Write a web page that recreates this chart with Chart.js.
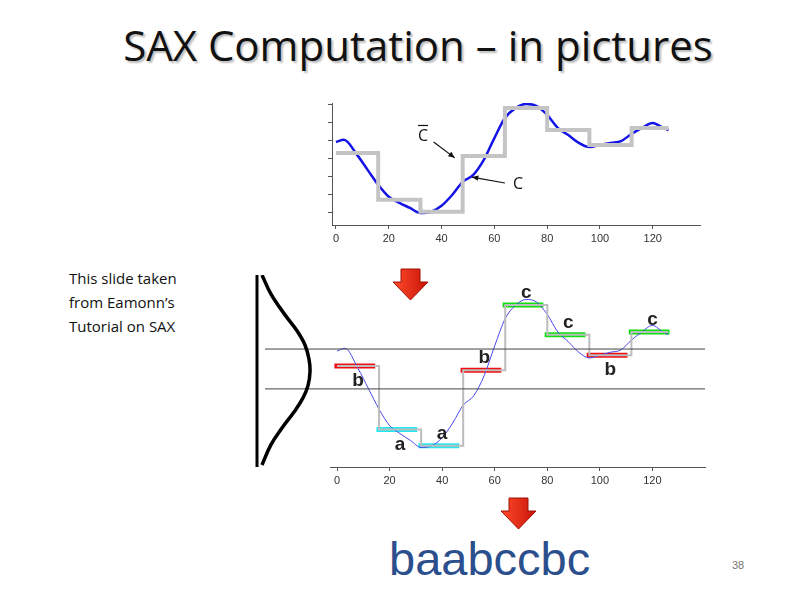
<!DOCTYPE html>
<html>
<head>
<meta charset="utf-8">
<script src="https://cdn.jsdelivr.net/npm/chart.js@4.4.1/dist/chart.umd.min.js"></script>
<style>
  html, body { margin: 0; padding: 0; background: #fff; }
  body { width: 791px; height: 589px; position: relative; overflow: hidden; font-family: "Liberation Sans", Arial, sans-serif; }
  .abs { position: absolute; }
  #title { left: 0; width: 836px; top: 16px; text-align: center; font-family: "Open Sans", sans-serif; font-size: 42px; color: #111; text-shadow: 2px 2px 2px #bbb; }
  #side { left: 69px; top: 266px; font-family: "Open Sans", sans-serif; font-size: 15px; line-height: 24px; color: #111; }
  #word { left: 389px; top: 531px; font-size: 47px; color: #2b4e8c; }
  #page { left: 732px; top: 559px; font-size: 11px; color: #777; }
</style>
</head>
<body>
<div id="title" class="abs">SAX Computation – in pictures</div>
<div id="side" class="abs">This slide taken<br>from Eamonn’s<br>Tutorial on SAX</div>
<div id="word" class="abs">baabccbc</div>
<div id="page" class="abs">38</div>

<svg class="abs" style="left:392px;top:268px" width="38" height="34">
  <defs><linearGradient id="rg" x1="0" x2="1"><stop offset="0" stop-color="#ff4a2a"/><stop offset="1" stop-color="#c81408"/></linearGradient></defs>
  <polygon points="9,1 28,1 28,14 36,14 18.5,32 1,14 9,14" fill="url(#rg)" stroke="#a01008" stroke-width="1"/>
</svg>
<svg class="abs" style="left:500px;top:497px" width="38" height="34">
  <polygon points="9,1 28,1 28,14 36,14 18.5,32 1,14 9,14" fill="url(#rg)" stroke="#a01008" stroke-width="1"/>
</svg>

<canvas id="top" class="abs" style="left:320px;top:95px" width="385" height="150"></canvas>
<canvas id="gauss" class="abs" style="left:250px;top:270px" width="80" height="222"></canvas>
<canvas id="bottom" class="abs" style="left:330px;top:270px" width="380" height="222"></canvas>

<script>
'use strict';

var SERIES_X = [0, 3, 8, 12, 16, 20, 24, 28, 32, 36, 40, 44, 48, 52, 56, 60, 64, 68, 72, 76, 80, 84, 88, 92, 96, 100, 104, 108, 112, 116, 120, 124, 126];
var SERIES_Y = [0.6, 0.67, 0.17, -0.33, -0.83, -1.23, -1.43, -1.6, -1.77, -1.73, -1.53, -1.17, -0.73, -0.5, 0.0, 0.73, 1.4, 1.73, 1.87, 1.8, 1.5, 1.07, 0.83, 0.57, 0.43, 0.5, 0.57, 0.63, 0.87, 1.07, 1.23, 1.07, 1.0];

// PAA approximation (C bar), 8 frames of 16 points
var PAA = [0.23, -1.33, -1.73, 0.13, 1.73, 1.0, 0.5, 1.07];
var FRAME = 16;
var LAST_X = 126;

// SAX symbols
var WORD = ['b', 'a', 'a', 'b', 'c', 'c', 'b', 'c'];
var LETTER_SIDE = ['below', 'below', 'above', 'above', 'above', 'above', 'below', 'above'];
var SYMBOL_COLORS = { a: '#22e8f2', b: '#f01010', c: '#10e010' };

// breakpoints between symbols
var BREAKPOINTS = [0.65, -0.33];

// gaussian outline (value, density in px-units)
var GAUSS_V = [2.47, 2.0, 1.49, 1.1, 0.75, 0.4, 0.09, -0.25, -0.55, -0.9, -1.29, -1.7, -2.2];
var GAUSS_D = [5, 14, 28, 40, 48, 52, 53, 51, 46, 37, 25, 14, 5];

var X_TICKS = [0, 20, 40, 60, 80, 100, 120];

function seriesPoints() {
  return SERIES_X.map(function (x, i) { return { x: x, y: SERIES_Y[i] }; });
}

function paaPoints() {
  var pts = PAA.map(function (v, i) { return { x: i * FRAME, y: v }; });
  pts.push({ x: LAST_X, y: PAA[PAA.length - 1] });
  return pts;
}

function xAxis(min, max, height) {
  return {
    type: 'linear', min: min, max: max,
    afterBuildTicks: function (ax) { ax.ticks = X_TICKS.map(function (v) { return { value: v }; }); },
    afterFit: function (ax) { ax.height = height; },
    grid: { display: true, drawOnChartArea: false, tickLength: 4, color: '#555' },
    border: { display: true, color: '#555', width: 1 },
    ticks: { color: '#333', font: { size: 11, family: 'Liberation Sans' }, padding: 3, maxRotation: 0 }
  };
}

// arrows and labels for the top chart
var NOTES = [
  { text: 'C', bar: true, tx: 33, ty: 0.77, fx: 37, fy: 0.6, ax: 45, ay: 0.07 },
  { text: 'C', bar: false, tx: 69, ty: -0.83, fx: 64, fy: -0.77, ax: 51.5, ay: -0.57 }
];

var notePlugin = {
  id: 'notes',
  afterDatasetsDraw: function (chart) {
    var ctx = chart.ctx, xs = chart.scales.x, ys = chart.scales.y;
    ctx.save();
    NOTES.forEach(function (n) {
      var tx = xs.getPixelForValue(n.tx), ty = ys.getPixelForValue(n.ty);
      ctx.fillStyle = '#111';
      ctx.font = '16px "Open Sans"';
      ctx.textAlign = 'center';
      ctx.textBaseline = 'middle';
      ctx.fillText(n.text, tx, ty);
      if (n.bar) {
        ctx.fillRect(tx - 5, ty - 12, 10, 1.2);
      }
      var fx = xs.getPixelForValue(n.fx), fy = ys.getPixelForValue(n.fy);
      var ax = xs.getPixelForValue(n.ax), ay = ys.getPixelForValue(n.ay);
      ctx.strokeStyle = '#111';
      ctx.lineWidth = 1.2;
      ctx.beginPath(); ctx.moveTo(fx, fy); ctx.lineTo(ax, ay); ctx.stroke();
      var a = Math.atan2(ay - fy, ax - fx);
      ctx.beginPath();
      ctx.moveTo(ax, ay);
      ctx.lineTo(ax - 7 * Math.cos(a - 0.4), ay - 7 * Math.sin(a - 0.4));
      ctx.lineTo(ax - 7 * Math.cos(a + 0.4), ay - 7 * Math.sin(a + 0.4));
      ctx.closePath(); ctx.fill();
    });
    ctx.restore();
  }
};

new Chart(document.getElementById('top').getContext('2d'), {
  type: 'line',
  data: {
    datasets: [
      { data: paaPoints(), stepped: 'before', borderColor: '#c4c4c4', borderWidth: 4, pointRadius: 0 },
      { data: seriesPoints(), borderColor: '#1414e6', borderWidth: 2.5, pointRadius: 0, cubicInterpolationMode: 'monotone' }
    ]
  },
  options: {
    responsive: false, animation: false,
    layout: { padding: { top: 8, right: 5, left: 0, bottom: 0 } },
    plugins: { legend: { display: false }, tooltip: { enabled: false } },
    scales: {
      x: xAxis(-1.5, 137.9, 20),
      y: {
        type: 'linear', min: -2.17, max: 1.9,
        afterBuildTicks: function (ax) {
          var t = [];
          for (var v = -1.75; v < 1.9; v += 0.6) t.push({ value: v });
          ax.ticks = t;
        },
        afterFit: function (ax) { ax.width = 12; },
        grid: { display: true, drawOnChartArea: false, tickLength: 4, color: '#555' },
        border: { display: true, color: '#555', width: 1 },
        ticks: { callback: function () { return ''; }, padding: 0 }
      }
    }
  },
  plugins: [notePlugin]
});

// gaussian + left part of breakpoint lines
var gaussPts = GAUSS_V.map(function (v, i) { return { x: GAUSS_D[i], y: v }; });
var gaussDatasets = [
  { data: gaussPts, borderColor: '#000', borderWidth: 3.5, pointRadius: 0, tension: 0.4 },
  { data: [{ x: 0, y: -2.25 }, { x: 0, y: 2.47 }], borderColor: '#000', borderWidth: 3, pointRadius: 0 }
];
BREAKPOINTS.forEach(function (b) {
  gaussDatasets.push({ data: [{ x: 8, y: b }, { x: 80, y: b }], borderColor: '#444', borderWidth: 1, pointRadius: 0 });
});

new Chart(document.getElementById('gauss').getContext('2d'), {
  type: 'line',
  data: { datasets: gaussDatasets },
  options: {
    responsive: false, animation: false,
    layout: { padding: { top: 5, bottom: 25, left: 0, right: 0 } },
    plugins: { legend: { display: false }, tooltip: { enabled: false } },
    scales: {
      x: { type: 'linear', min: -7, max: 73, display: false },
      y: { type: 'linear', min: -2.25, max: 2.47, display: false }
    }
  }
});

// bottom chart
var letterPlugin = {
  id: 'letters',
  afterDatasetsDraw: function (chart) {
    var ctx = chart.ctx, xs = chart.scales.x, ys = chart.scales.y;
    ctx.save();
    ctx.font = 'bold 19px "Liberation Sans"';
    ctx.fillStyle = '#222';
    ctx.textAlign = 'center';
    ctx.textBaseline = 'middle';
    WORD.forEach(function (s, i) {
      var px = xs.getPixelForValue(i * FRAME + FRAME / 2);
      var py = ys.getPixelForValue(PAA[i]) + (LETTER_SIDE[i] === 'below' ? 15 : -12);
      ctx.fillText(s, px, py);
    });
    ctx.restore();
  }
};

var bottomDatasets = [];
BREAKPOINTS.forEach(function (b) {
  bottomDatasets.push({ data: [{ x: -3, y: b }, { x: 141, y: b }], borderColor: '#444', borderWidth: 1, pointRadius: 0 });
});
bottomDatasets.push({ data: paaPoints(), stepped: 'before', borderColor: '#bdbdbd', borderWidth: 2, pointRadius: 0 });
bottomDatasets.push({ data: seriesPoints(), borderColor: '#4848ee', borderWidth: 1, pointRadius: 0, cubicInterpolationMode: 'monotone' });
WORD.forEach(function (s, i) {
  bottomDatasets.push({
    data: [{ x: i * FRAME - 1, y: PAA[i] }, { x: i * FRAME + FRAME - 1.5, y: PAA[i] }],
    borderColor: SYMBOL_COLORS[s], borderWidth: 5, pointRadius: 0, borderCapStyle: 'butt'
  });
});

new Chart(document.getElementById('bottom').getContext('2d'), {
  type: 'line',
  data: { datasets: bottomDatasets },
  options: {
    responsive: false, animation: false,
    layout: { padding: { top: 5, right: 5, left: 0, bottom: 0 } },
    plugins: { legend: { display: false }, tooltip: { enabled: false } },
    scales: {
      x: xAxis(-2.67, 140, 25),
      y: { type: 'linear', min: -2.25, max: 2.47, display: false }
    }
  },
  plugins: [letterPlugin]
});
</script>
</body>
</html>
